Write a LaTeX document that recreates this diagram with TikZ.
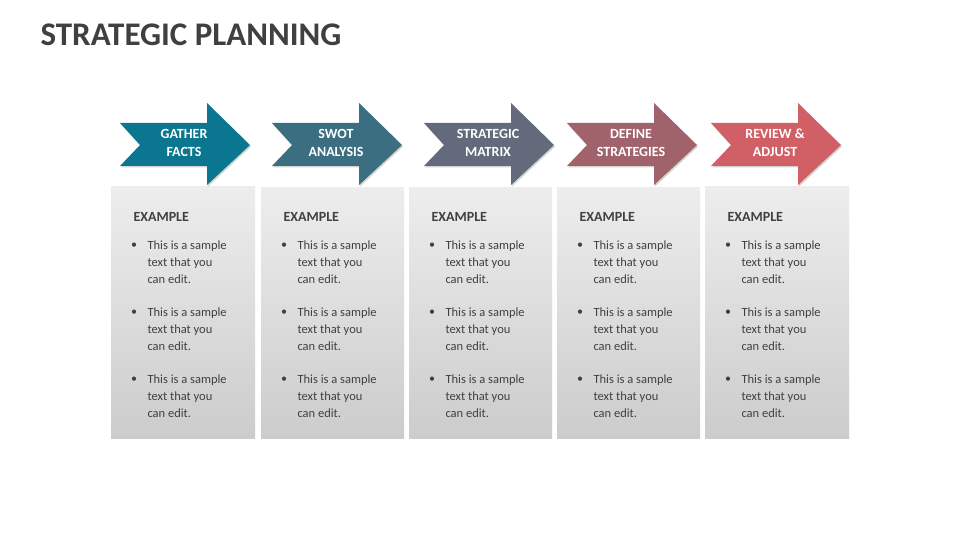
\documentclass[tikz,border=0pt]{standalone}
\usepackage{fontspec}
\setmainfont{Carlito}
\usetikzlibrary{shadows}
\definecolor{txt}{HTML}{404040}
\definecolor{cA}{HTML}{0B7690}
\definecolor{cB}{HTML}{3A6E80}
\definecolor{cC}{HTML}{636A7B}
\definecolor{cD}{HTML}{A0636B}
\definecolor{cE}{HTML}{D06065}
\tikzset{
  arrowlbl/.style={font=\fontsize{14}{18}\selectfont\bfseries, text=white, align=center},
  panel/.style={top color=gray!14, bottom color=gray!40, draw=none},
  exlbl/.style={font=\fontsize{14}{17}\selectfont\bfseries, text=txt, anchor=west},
  bullettxt/.style={font=\fontsize{12.5}{17}\selectfont, text=txt, anchor=north west, align=left},
}
\newcommand{\myarrow}[3]{% x, color, label
  \fill[#2, drop shadow={shadow xshift=1pt,shadow yshift=-1.5pt,opacity=0.35}] (#1,-123) -- (#1+87,-123) -- (#1+87,-103) -- (#1+130,-145) -- (#1+87,-185) -- (#1+87,-166) -- (#1,-166) -- (#1+20,-145) -- cycle;
  \node[arrowlbl] (lbl#1) at (#1+64,-143) {#3};
}
\newcommand{\mypanel}[3]{% x1, x2, top
  \fill[panel] (#1,-#3) rectangle (#2,-438);
  \node[exlbl] (ex#1) at (#1+19,-217) {EXAMPLE};
  \foreach \yy/\k in {246/a,313/b,380/c}{
    \node[text=txt, font=\fontsize{12}{12}\selectfont] (dot#1\k) at (#1+23,-\yy) {\textbullet};
    \node[bullettxt] (b#1\k) at (#1+33,-\yy+9) {This is a sample\\text that you\\can edit.};
  }
}
\begin{document}
\begin{tikzpicture}[x=1pt,y=1pt]
\useasboundingbox[fill=white] (0,0) rectangle (960,-540);
\node[anchor=west, font=\fontsize{33}{36}\selectfont\bfseries, text=txt] (title) at (37,-35) {STRATEGIC PLANNING};
\mypanel{111}{255}{186}
\mypanel{261}{404}{187}
\mypanel{409}{552}{187}
\mypanel{557}{700}{187}
\mypanel{705}{849}{186}
\myarrow{120}{cA}{GATHER\\FACTS}
\myarrow{272}{cB}{SWOT\\ANALYSIS}
\myarrow{424}{cC}{STRATEGIC\\MATRIX}
\myarrow{567}{cD}{DEFINE\\STRATEGIES}
\myarrow{711}{cE}{REVIEW \&\\ADJUST}
\end{tikzpicture}
\end{document}
